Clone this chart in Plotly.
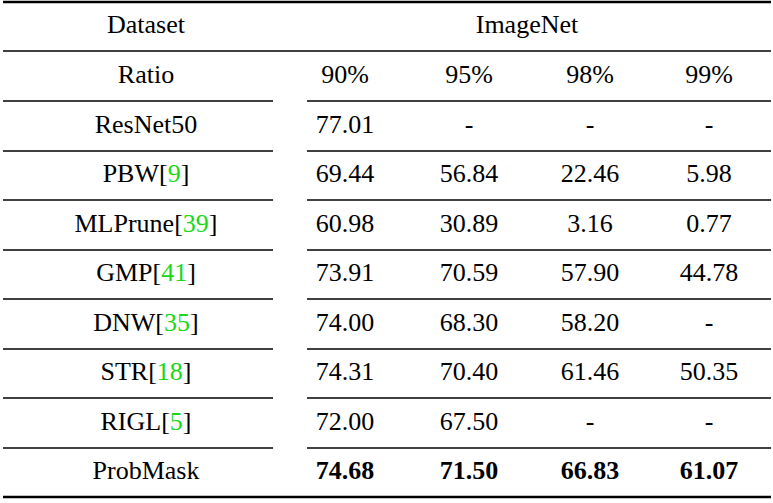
import plotly.graph_objects as go

# table contents
dataset_name = "ImageNet"
ratios = ["90%", "95%", "98%", "99%"]
methods = ["ResNet50", "PBW", "MLPrune", "GMP", "DNW", "STR", "RIGL", "ProbMask"]
refs = [None, "9", "39", "41", "35", "18", "5", None]
acc_90 = ["77.01", "69.44", "60.98", "73.91", "74.00", "74.31", "72.00", "74.68"]
acc_95 = ["-", "56.84", "30.89", "70.59", "68.30", "70.40", "67.50", "71.50"]
acc_98 = ["-", "22.46", "3.16", "57.90", "58.20", "61.46", "-", "66.83"]
acc_99 = ["-", "5.98", "0.77", "44.78", "-", "50.35", "-", "61.07"]
best_method = "ProbMask"

# layout (pixel-like coordinates)
W, H = 773, 503
col_x = [146, 345, 469, 590, 709]
line_y = [2, 51, 101, 151, 200, 250, 299, 349, 398, 448, 497]
row_y = [(a + b) / 2 for a, b in zip(line_y[:-1], line_y[1:])]
x_left, x_gap0, x_gap1, x_right = 3, 273, 307, 771

FONT = "Liberation Serif"
GREEN = "#17d917"


def label(name, ref):
    if ref is None:
        return name
    return f"{name}[<span style='color:{GREEN}'>{ref}</span>]"


xs, ys, texts = [], [], []

# header rows
xs += [col_x[0], (col_x[1] + col_x[4]) / 2]
ys += [row_y[0], row_y[0]]
texts += ["Dataset", dataset_name]
xs.append(col_x[0]); ys.append(row_y[1]); texts.append("Ratio")
for j, r in enumerate(ratios):
    xs.append(col_x[j + 1]); ys.append(row_y[1]); texts.append(r)

# body rows
cols = [acc_90, acc_95, acc_98, acc_99]
for i, m in enumerate(methods):
    y = row_y[i + 2]
    xs.append(col_x[0]); ys.append(y); texts.append(label(m, refs[i]))
    for j, c in enumerate(cols):
        v = c[i]
        if m == best_method:
            v = f"<b>{v}</b>"
        xs.append(col_x[j + 1]); ys.append(y); texts.append(v)

fig = go.Figure(go.Scatter(
    x=xs, y=ys, text=texts, mode="text",
    textposition="middle center",
    textfont=dict(family=FONT, size=26, color="black"),
    hoverinfo="skip",
))

shapes = []
# thick top and bottom rules
for y in (line_y[0], line_y[-1]):
    shapes.append(dict(type="line", x0=x_left, x1=x_right, y0=y, y1=y,
                       line=dict(color="black", width=2.6)))
# full-width rule under the dataset row
shapes.append(dict(type="line", x0=x_left, x1=x_right, y0=line_y[1], y1=line_y[1],
                   line=dict(color="black", width=1.3)))
# split rules between body rows
for y in line_y[2:-1]:
    shapes.append(dict(type="line", x0=x_left, x1=x_gap0, y0=y, y1=y,
                       line=dict(color="black", width=1.3)))
    shapes.append(dict(type="line", x0=x_gap1, x1=x_right, y0=y, y1=y,
                       line=dict(color="black", width=1.3)))

fig.update_layout(
    width=W, height=H,
    margin=dict(l=0, r=0, t=0, b=0),
    paper_bgcolor="white", plot_bgcolor="white",
    font=dict(family=FONT),
    showlegend=False,
    shapes=shapes,
    xaxis=dict(range=[0, W], visible=False, fixedrange=True),
    yaxis=dict(range=[H, 0], visible=False, fixedrange=True),
)

# page body has a default margin; drop it so the figure sits at the corner
fig.write_html("out.html", config={"displayModeBar": False},
               post_script="document.body.style.margin = '0';")
